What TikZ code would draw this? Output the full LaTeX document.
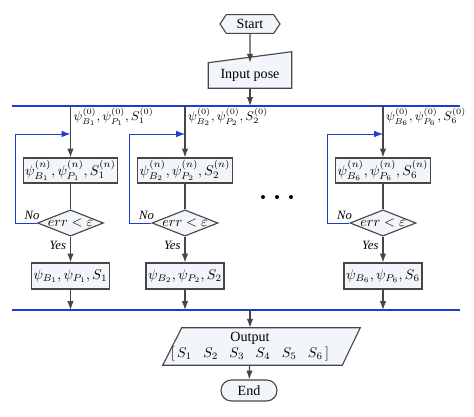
\documentclass[tikz,border=0pt]{standalone}
\usepackage{fontspec}
\setmainfont{Liberation Serif}
\usepackage{amsmath}
\usepackage{tikz}
\usetikzlibrary{positioning,arrows.meta,shapes.geometric,shapes.symbols,backgrounds}

\definecolor{busblue}{RGB}{30,60,205}
\definecolor{boxfill}{RGB}{242,245,250}
\definecolor{boxline}{RGB}{70,70,70}

\begin{document}
\begin{tikzpicture}[>={Latex[length=2.2mm,width=1.6mm]}, font=\normalsize,
		box/.style={draw=boxline, fill=boxfill, line width=0.8pt, inner sep=1.5pt},
		cond/.style={draw=boxline, fill=boxfill, line width=0.8pt, diamond, aspect=2.5,
			inner sep=0pt, minimum width=1.65cm, minimum height=0.65cm},
		flow/.style={draw=boxline, line width=0.8pt},
		bus/.style={busblue, line width=1.3pt},
		loopback/.style={busblue, line width=0.6pt, ->},
		tag/.style={font=\small\itshape, inner sep=1pt}]
		\useasboundingbox (0,0) rectangle (11.85,10.425);
		
		% start and input
		\node[box, signal, signal to=east and west, signal pointer angle=112,
			minimum width=1.5cm, minimum height=0.47cm, inner sep=1pt] (start) at (6.25,9.825) {Start};
		\node[inner sep=0pt, minimum width=2.075cm, minimum height=0.625cm] (inp) at (6.25,8.5375) {Input pose};
		\begin{scope}[on background layer]
			\draw[box] (inp.south west) -- (inp.south east) -- ([yshift=0.275cm]inp.north east)
				-- (inp.north west) -- cycle;
		\end{scope}
		\draw[flow,->] (start) -- (inp);
		
		% buses
		\coordinate (top) at (6.25,7.775);
		\coordinate (bot) at (6.25,2.675);
		\draw[bus] (0.3,7.775) -- (11.5,7.775);
		\draw[bus] (0.3,2.675) -- (11.5,2.675);
		\draw[flow,->] (inp.south) -- (top);
		
		% the three branches
		\foreach \x/\i in {1.7625/1, 4.625/2, 9.575/6}{
			\coordinate (t\i) at (\x,7.775);
			\coordinate (b\i) at (\x,2.675);
			\coordinate (fb\i) at (\x,7.075);
			\coordinate (lp\i) at (\x-1.38,4.85);
			\node[font=\small, inner sep=1pt, below right=0pt and 1pt of t\i] (lab\i)
				{$\psi^{(0)}_{B_\i},\psi^{(0)}_{P_\i},S^{(0)}_\i$};
			\node[box, minimum width=1.925cm, minimum height=0.625cm] (p\i) at (\x,6.1625)
				{$\psi^{(n)}_{B_\i},\psi^{(n)}_{P_\i},S^{(n)}_\i$};
			\node[cond] (d\i) at (\x,4.85) {$err<\varepsilon$};
			\node[box, minimum width=1.6cm, minimum height=0.65cm] (r\i) at (\x,3.525)
				{$\psi_{B_\i},\psi_{P_\i},S_\i$};
			\node[tag, above left=1pt and -3pt of d\i.west] (no\i) {No};
			\node[tag, below left=2pt and 2pt of d\i.south] (yes\i) {Yes};
			\draw[flow,->] (t\i) -- (p\i);
			\draw[flow] (p\i) -- (d\i);
			\draw[flow,->] (d\i) -- (r\i);
			\draw[flow,->] (r\i) -- (b\i);
			\draw[loopback] (d\i.west) -- (lp\i) |- (fb\i);
		}
		
		% dots between branches
		\foreach \dx in {6.575,6.925,7.275}
			\fill (\dx,5.5) circle (0.05);
		
		% output and end
		\node[inner sep=0pt, minimum width=4cm, minimum height=0.925cm, align=center] (out) at (6.25,1.7625)
			{Output\\[-1pt] $[\,S_1\hspace{8pt}S_2\hspace{8pt}S_3\hspace{8pt}S_4\hspace{8pt}S_5\hspace{8pt}S_6\,]$};
		\begin{scope}[on background layer]
			\draw[box] ([xshift=-0.175cm]out.south west) -- ([xshift=0.3cm]out.south east)
				-- ([xshift=0.75cm]out.north east) -- ([xshift=0.3cm]out.north west) -- cycle;
		\end{scope}
		\node[box, rounded corners=0.26cm, minimum width=1.4cm, minimum height=0.525cm] (end) at (6.225,0.6625) {End};
		\draw[flow,->] (bot) -- (out);
		\draw[flow,->] (out) -- (end);
	\end{tikzpicture}
\end{document}
